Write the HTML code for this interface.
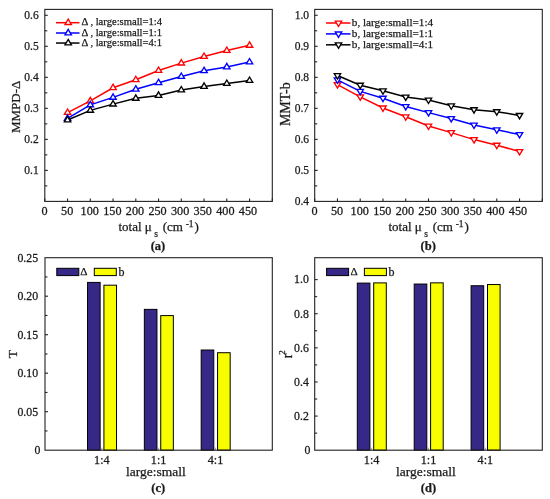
<!DOCTYPE html>
<html><head><meta charset="utf-8"><style>
html,body{margin:0;padding:0;background:#fff;}
svg{display:block;}
text{font-family:"Liberation Serif", serif;fill:#1a1a1a;stroke:#1a1a1a;stroke-width:0.25px;}
svg{will-change:transform;}
</style></head><body>
<svg width="550" height="499" viewBox="0 0 550 499">
<rect width="550" height="499" fill="#fff"/>
<line x1="44.80" y1="201.40" x2="44.80" y2="198.40" stroke="#222" stroke-width="1.1"/>
<line x1="67.55" y1="201.40" x2="67.55" y2="198.40" stroke="#222" stroke-width="1.1"/>
<line x1="90.30" y1="201.40" x2="90.30" y2="198.40" stroke="#222" stroke-width="1.1"/>
<line x1="113.05" y1="201.40" x2="113.05" y2="198.40" stroke="#222" stroke-width="1.1"/>
<line x1="135.80" y1="201.40" x2="135.80" y2="198.40" stroke="#222" stroke-width="1.1"/>
<line x1="158.55" y1="201.40" x2="158.55" y2="198.40" stroke="#222" stroke-width="1.1"/>
<line x1="181.30" y1="201.40" x2="181.30" y2="198.40" stroke="#222" stroke-width="1.1"/>
<line x1="204.05" y1="201.40" x2="204.05" y2="198.40" stroke="#222" stroke-width="1.1"/>
<line x1="226.80" y1="201.40" x2="226.80" y2="198.40" stroke="#222" stroke-width="1.1"/>
<line x1="249.55" y1="201.40" x2="249.55" y2="198.40" stroke="#222" stroke-width="1.1"/>
<line x1="272.30" y1="201.40" x2="272.30" y2="198.40" stroke="#222" stroke-width="1.1"/>
<line x1="44.80" y1="185.89" x2="47.30" y2="185.89" stroke="#222" stroke-width="1.1"/>
<line x1="44.80" y1="170.38" x2="47.80" y2="170.38" stroke="#222" stroke-width="1.1"/>
<line x1="44.80" y1="154.87" x2="47.30" y2="154.87" stroke="#222" stroke-width="1.1"/>
<line x1="44.80" y1="139.36" x2="47.80" y2="139.36" stroke="#222" stroke-width="1.1"/>
<line x1="44.80" y1="123.85" x2="47.30" y2="123.85" stroke="#222" stroke-width="1.1"/>
<line x1="44.80" y1="108.34" x2="47.80" y2="108.34" stroke="#222" stroke-width="1.1"/>
<line x1="44.80" y1="92.83" x2="47.30" y2="92.83" stroke="#222" stroke-width="1.1"/>
<line x1="44.80" y1="77.32" x2="47.80" y2="77.32" stroke="#222" stroke-width="1.1"/>
<line x1="44.80" y1="61.81" x2="47.30" y2="61.81" stroke="#222" stroke-width="1.1"/>
<line x1="44.80" y1="46.30" x2="47.80" y2="46.30" stroke="#222" stroke-width="1.1"/>
<line x1="44.80" y1="30.79" x2="47.30" y2="30.79" stroke="#222" stroke-width="1.1"/>
<line x1="44.80" y1="15.28" x2="47.80" y2="15.28" stroke="#222" stroke-width="1.1"/>
<rect x="44.80" y="9.40" width="227.50" height="192.00" fill="none" stroke="#222" stroke-width="1.1"/>
<text transform="translate(38.70,174.08) scale(1.0,1)" font-size="11.5" text-anchor="end">0.1</text>
<text transform="translate(38.70,143.06) scale(1.0,1)" font-size="11.5" text-anchor="end">0.2</text>
<text transform="translate(38.70,112.04) scale(1.0,1)" font-size="11.5" text-anchor="end">0.3</text>
<text transform="translate(38.70,81.02) scale(1.0,1)" font-size="11.5" text-anchor="end">0.4</text>
<text transform="translate(38.70,50.00) scale(1.0,1)" font-size="11.5" text-anchor="end">0.5</text>
<text transform="translate(38.70,18.98) scale(1.0,1)" font-size="11.5" text-anchor="end">0.6</text>
<text transform="translate(44.55,214.80) scale(1.06,1)" font-size="11.5" text-anchor="middle">0</text>
<text transform="translate(67.15,214.80) scale(1.06,1)" font-size="11.5" text-anchor="middle">50</text>
<text transform="translate(89.75,214.80) scale(1.06,1)" font-size="11.5" text-anchor="middle">100</text>
<text transform="translate(112.35,214.80) scale(1.06,1)" font-size="11.5" text-anchor="middle">150</text>
<text transform="translate(134.95,214.80) scale(1.06,1)" font-size="11.5" text-anchor="middle">200</text>
<text transform="translate(157.55,214.80) scale(1.06,1)" font-size="11.5" text-anchor="middle">250</text>
<text transform="translate(180.15,214.80) scale(1.06,1)" font-size="11.5" text-anchor="middle">300</text>
<text transform="translate(202.75,214.80) scale(1.06,1)" font-size="11.5" text-anchor="middle">350</text>
<text transform="translate(225.35,214.80) scale(1.06,1)" font-size="11.5" text-anchor="middle">400</text>
<text transform="translate(247.95,214.80) scale(1.06,1)" font-size="11.5" text-anchor="middle">450</text>
<polyline points="67.55,112.55 90.30,100.95 113.05,87.75 135.80,79.80 158.55,70.55 181.30,63.15 204.05,56.55 226.80,50.55 249.55,45.35" fill="none" stroke="#ff0000" stroke-width="1.5"/>
<polygon points="67.55,109.00 70.75,114.40 64.35,114.40" fill="#fff" stroke="#ff0000" stroke-width="1.35" stroke-linejoin="miter"/>
<polygon points="90.30,97.40 93.50,102.80 87.10,102.80" fill="#fff" stroke="#ff0000" stroke-width="1.35" stroke-linejoin="miter"/>
<polygon points="113.05,84.20 116.25,89.60 109.85,89.60" fill="#fff" stroke="#ff0000" stroke-width="1.35" stroke-linejoin="miter"/>
<polygon points="135.80,76.25 139.00,81.65 132.60,81.65" fill="#fff" stroke="#ff0000" stroke-width="1.35" stroke-linejoin="miter"/>
<polygon points="158.55,67.00 161.75,72.40 155.35,72.40" fill="#fff" stroke="#ff0000" stroke-width="1.35" stroke-linejoin="miter"/>
<polygon points="181.30,59.60 184.50,65.00 178.10,65.00" fill="#fff" stroke="#ff0000" stroke-width="1.35" stroke-linejoin="miter"/>
<polygon points="204.05,53.00 207.25,58.40 200.85,58.40" fill="#fff" stroke="#ff0000" stroke-width="1.35" stroke-linejoin="miter"/>
<polygon points="226.80,47.00 230.00,52.40 223.60,52.40" fill="#fff" stroke="#ff0000" stroke-width="1.35" stroke-linejoin="miter"/>
<polygon points="249.55,41.80 252.75,47.20 246.35,47.20" fill="#fff" stroke="#ff0000" stroke-width="1.35" stroke-linejoin="miter"/>
<polyline points="67.55,118.45 90.30,104.85 113.05,97.35 135.80,89.25 158.55,82.75 181.30,76.55 204.05,70.75 226.80,66.95 249.55,62.05" fill="none" stroke="#0000ff" stroke-width="1.5"/>
<polygon points="67.55,114.90 70.75,120.30 64.35,120.30" fill="#fff" stroke="#0000ff" stroke-width="1.35" stroke-linejoin="miter"/>
<polygon points="90.30,101.30 93.50,106.70 87.10,106.70" fill="#fff" stroke="#0000ff" stroke-width="1.35" stroke-linejoin="miter"/>
<polygon points="113.05,93.80 116.25,99.20 109.85,99.20" fill="#fff" stroke="#0000ff" stroke-width="1.35" stroke-linejoin="miter"/>
<polygon points="135.80,85.70 139.00,91.10 132.60,91.10" fill="#fff" stroke="#0000ff" stroke-width="1.35" stroke-linejoin="miter"/>
<polygon points="158.55,79.20 161.75,84.60 155.35,84.60" fill="#fff" stroke="#0000ff" stroke-width="1.35" stroke-linejoin="miter"/>
<polygon points="181.30,73.00 184.50,78.40 178.10,78.40" fill="#fff" stroke="#0000ff" stroke-width="1.35" stroke-linejoin="miter"/>
<polygon points="204.05,67.20 207.25,72.60 200.85,72.60" fill="#fff" stroke="#0000ff" stroke-width="1.35" stroke-linejoin="miter"/>
<polygon points="226.80,63.40 230.00,68.80 223.60,68.80" fill="#fff" stroke="#0000ff" stroke-width="1.35" stroke-linejoin="miter"/>
<polygon points="249.55,58.50 252.75,63.90 246.35,63.90" fill="#fff" stroke="#0000ff" stroke-width="1.35" stroke-linejoin="miter"/>
<polyline points="67.55,120.05 90.30,110.35 113.05,104.15 135.80,98.35 158.55,95.45 181.30,90.05 204.05,86.45 226.80,83.55 249.55,80.55" fill="none" stroke="#000" stroke-width="1.5"/>
<polygon points="67.55,116.50 70.75,121.90 64.35,121.90" fill="#fff" stroke="#000" stroke-width="1.35" stroke-linejoin="miter"/>
<polygon points="90.30,106.80 93.50,112.20 87.10,112.20" fill="#fff" stroke="#000" stroke-width="1.35" stroke-linejoin="miter"/>
<polygon points="113.05,100.60 116.25,106.00 109.85,106.00" fill="#fff" stroke="#000" stroke-width="1.35" stroke-linejoin="miter"/>
<polygon points="135.80,94.80 139.00,100.20 132.60,100.20" fill="#fff" stroke="#000" stroke-width="1.35" stroke-linejoin="miter"/>
<polygon points="158.55,91.90 161.75,97.30 155.35,97.30" fill="#fff" stroke="#000" stroke-width="1.35" stroke-linejoin="miter"/>
<polygon points="181.30,86.50 184.50,91.90 178.10,91.90" fill="#fff" stroke="#000" stroke-width="1.35" stroke-linejoin="miter"/>
<polygon points="204.05,82.90 207.25,88.30 200.85,88.30" fill="#fff" stroke="#000" stroke-width="1.35" stroke-linejoin="miter"/>
<polygon points="226.80,80.00 230.00,85.40 223.60,85.40" fill="#fff" stroke="#000" stroke-width="1.35" stroke-linejoin="miter"/>
<polygon points="249.55,77.00 252.75,82.40 246.35,82.40" fill="#fff" stroke="#000" stroke-width="1.35" stroke-linejoin="miter"/>
<line x1="56.00" y1="22.70" x2="79.50" y2="22.70" stroke="#ff0000" stroke-width="1.5"/>
<polygon points="68.20,19.10 71.40,24.50 65.00,24.50" fill="#fff" stroke="#ff0000" stroke-width="1.35" stroke-linejoin="miter"/>
<text x="81.50" y="25.30" font-size="10.6" text-anchor="start" font-weight="normal" >&#916; , large:small=1:4</text>
<line x1="56.00" y1="33.00" x2="79.50" y2="33.00" stroke="#0000ff" stroke-width="1.5"/>
<polygon points="68.20,29.40 71.40,34.80 65.00,34.80" fill="#fff" stroke="#0000ff" stroke-width="1.35" stroke-linejoin="miter"/>
<text x="81.50" y="35.60" font-size="10.6" text-anchor="start" font-weight="normal" >&#916; , large:small=1:1</text>
<line x1="56.00" y1="43.05" x2="79.50" y2="43.05" stroke="#000" stroke-width="1.5"/>
<polygon points="68.20,39.45 71.40,44.85 65.00,44.85" fill="#fff" stroke="#000" stroke-width="1.35" stroke-linejoin="miter"/>
<text x="81.50" y="45.65" font-size="10.6" text-anchor="start" font-weight="normal" >&#916; , large:small=4:1</text>
<text x="0.00" y="0.00" font-size="13" text-anchor="middle" font-weight="normal" transform="translate(19.7,106.8) rotate(-90)">MMPD-&#916;</text>
<text x="118.5" y="230.5" font-size="13">total &#956;<tspan font-size="9.5" dy="6.6" dx="2.3">s</tspan><tspan dy="-6.6" dx="4.8">(cm</tspan><tspan font-size="9.5" dy="-3.7" dx="2.8">-1</tspan><tspan dy="3.7" dx="1.0">)</tspan></text>
<text x="158.00" y="250.20" font-size="12.5" text-anchor="middle" font-weight="bold" >(a)</text>
<line x1="314.70" y1="201.40" x2="314.70" y2="198.40" stroke="#222" stroke-width="1.1"/>
<line x1="337.46" y1="201.40" x2="337.46" y2="198.40" stroke="#222" stroke-width="1.1"/>
<line x1="360.22" y1="201.40" x2="360.22" y2="198.40" stroke="#222" stroke-width="1.1"/>
<line x1="382.98" y1="201.40" x2="382.98" y2="198.40" stroke="#222" stroke-width="1.1"/>
<line x1="405.74" y1="201.40" x2="405.74" y2="198.40" stroke="#222" stroke-width="1.1"/>
<line x1="428.50" y1="201.40" x2="428.50" y2="198.40" stroke="#222" stroke-width="1.1"/>
<line x1="451.26" y1="201.40" x2="451.26" y2="198.40" stroke="#222" stroke-width="1.1"/>
<line x1="474.02" y1="201.40" x2="474.02" y2="198.40" stroke="#222" stroke-width="1.1"/>
<line x1="496.78" y1="201.40" x2="496.78" y2="198.40" stroke="#222" stroke-width="1.1"/>
<line x1="519.54" y1="201.40" x2="519.54" y2="198.40" stroke="#222" stroke-width="1.1"/>
<line x1="542.30" y1="201.40" x2="542.30" y2="198.40" stroke="#222" stroke-width="1.1"/>
<line x1="314.70" y1="185.89" x2="317.20" y2="185.89" stroke="#222" stroke-width="1.1"/>
<line x1="314.70" y1="170.38" x2="317.70" y2="170.38" stroke="#222" stroke-width="1.1"/>
<line x1="314.70" y1="154.87" x2="317.20" y2="154.87" stroke="#222" stroke-width="1.1"/>
<line x1="314.70" y1="139.36" x2="317.70" y2="139.36" stroke="#222" stroke-width="1.1"/>
<line x1="314.70" y1="123.85" x2="317.20" y2="123.85" stroke="#222" stroke-width="1.1"/>
<line x1="314.70" y1="108.34" x2="317.70" y2="108.34" stroke="#222" stroke-width="1.1"/>
<line x1="314.70" y1="92.83" x2="317.20" y2="92.83" stroke="#222" stroke-width="1.1"/>
<line x1="314.70" y1="77.32" x2="317.70" y2="77.32" stroke="#222" stroke-width="1.1"/>
<line x1="314.70" y1="61.81" x2="317.20" y2="61.81" stroke="#222" stroke-width="1.1"/>
<line x1="314.70" y1="46.30" x2="317.70" y2="46.30" stroke="#222" stroke-width="1.1"/>
<line x1="314.70" y1="30.79" x2="317.20" y2="30.79" stroke="#222" stroke-width="1.1"/>
<line x1="314.70" y1="15.28" x2="317.70" y2="15.28" stroke="#222" stroke-width="1.1"/>
<rect x="314.70" y="9.40" width="227.60" height="192.00" fill="none" stroke="#222" stroke-width="1.1"/>
<text transform="translate(309.10,204.90) scale(1.0,1)" font-size="11.5" text-anchor="end">0.4</text>
<text transform="translate(309.10,173.88) scale(1.0,1)" font-size="11.5" text-anchor="end">0.5</text>
<text transform="translate(309.10,142.86) scale(1.0,1)" font-size="11.5" text-anchor="end">0.6</text>
<text transform="translate(309.10,111.84) scale(1.0,1)" font-size="11.5" text-anchor="end">0.7</text>
<text transform="translate(309.10,80.82) scale(1.0,1)" font-size="11.5" text-anchor="end">0.8</text>
<text transform="translate(309.10,49.80) scale(1.0,1)" font-size="11.5" text-anchor="end">0.9</text>
<text transform="translate(309.10,18.78) scale(1.0,1)" font-size="11.5" text-anchor="end">1.0</text>
<text transform="translate(314.45,214.80) scale(1.06,1)" font-size="11.5" text-anchor="middle">0</text>
<text transform="translate(337.06,214.80) scale(1.06,1)" font-size="11.5" text-anchor="middle">50</text>
<text transform="translate(359.67,214.80) scale(1.06,1)" font-size="11.5" text-anchor="middle">100</text>
<text transform="translate(382.28,214.80) scale(1.06,1)" font-size="11.5" text-anchor="middle">150</text>
<text transform="translate(404.89,214.80) scale(1.06,1)" font-size="11.5" text-anchor="middle">200</text>
<text transform="translate(427.50,214.80) scale(1.06,1)" font-size="11.5" text-anchor="middle">250</text>
<text transform="translate(450.11,214.80) scale(1.06,1)" font-size="11.5" text-anchor="middle">300</text>
<text transform="translate(472.72,214.80) scale(1.06,1)" font-size="11.5" text-anchor="middle">350</text>
<text transform="translate(495.33,214.80) scale(1.06,1)" font-size="11.5" text-anchor="middle">400</text>
<text transform="translate(517.94,214.80) scale(1.06,1)" font-size="11.5" text-anchor="middle">450</text>
<polyline points="337.46,84.60 360.22,96.85 382.98,107.95 405.74,116.80 428.50,126.05 451.26,132.60 474.02,139.60 496.78,145.20 519.54,151.50" fill="none" stroke="#ff0000" stroke-width="1.5"/>
<polygon points="337.46,88.05 340.66,82.65 334.26,82.65" fill="#fff" stroke="#ff0000" stroke-width="1.35" stroke-linejoin="miter"/>
<polygon points="360.22,100.30 363.42,94.90 357.02,94.90" fill="#fff" stroke="#ff0000" stroke-width="1.35" stroke-linejoin="miter"/>
<polygon points="382.98,111.40 386.18,106.00 379.78,106.00" fill="#fff" stroke="#ff0000" stroke-width="1.35" stroke-linejoin="miter"/>
<polygon points="405.74,120.25 408.94,114.85 402.54,114.85" fill="#fff" stroke="#ff0000" stroke-width="1.35" stroke-linejoin="miter"/>
<polygon points="428.50,129.50 431.70,124.10 425.30,124.10" fill="#fff" stroke="#ff0000" stroke-width="1.35" stroke-linejoin="miter"/>
<polygon points="451.26,136.05 454.46,130.65 448.06,130.65" fill="#fff" stroke="#ff0000" stroke-width="1.35" stroke-linejoin="miter"/>
<polygon points="474.02,143.05 477.22,137.65 470.82,137.65" fill="#fff" stroke="#ff0000" stroke-width="1.35" stroke-linejoin="miter"/>
<polygon points="496.78,148.65 499.98,143.25 493.58,143.25" fill="#fff" stroke="#ff0000" stroke-width="1.35" stroke-linejoin="miter"/>
<polygon points="519.54,154.95 522.74,149.55 516.34,149.55" fill="#fff" stroke="#ff0000" stroke-width="1.35" stroke-linejoin="miter"/>
<polyline points="337.46,79.85 360.22,91.35 382.98,98.20 405.74,106.50 428.50,112.60 451.26,118.50 474.02,125.05 496.78,129.85 519.54,134.50" fill="none" stroke="#0000ff" stroke-width="1.5"/>
<polygon points="337.46,83.30 340.66,77.90 334.26,77.90" fill="#fff" stroke="#0000ff" stroke-width="1.35" stroke-linejoin="miter"/>
<polygon points="360.22,94.80 363.42,89.40 357.02,89.40" fill="#fff" stroke="#0000ff" stroke-width="1.35" stroke-linejoin="miter"/>
<polygon points="382.98,101.65 386.18,96.25 379.78,96.25" fill="#fff" stroke="#0000ff" stroke-width="1.35" stroke-linejoin="miter"/>
<polygon points="405.74,109.95 408.94,104.55 402.54,104.55" fill="#fff" stroke="#0000ff" stroke-width="1.35" stroke-linejoin="miter"/>
<polygon points="428.50,116.05 431.70,110.65 425.30,110.65" fill="#fff" stroke="#0000ff" stroke-width="1.35" stroke-linejoin="miter"/>
<polygon points="451.26,121.95 454.46,116.55 448.06,116.55" fill="#fff" stroke="#0000ff" stroke-width="1.35" stroke-linejoin="miter"/>
<polygon points="474.02,128.50 477.22,123.10 470.82,123.10" fill="#fff" stroke="#0000ff" stroke-width="1.35" stroke-linejoin="miter"/>
<polygon points="496.78,133.30 499.98,127.90 493.58,127.90" fill="#fff" stroke="#0000ff" stroke-width="1.35" stroke-linejoin="miter"/>
<polygon points="519.54,137.95 522.74,132.55 516.34,132.55" fill="#fff" stroke="#0000ff" stroke-width="1.35" stroke-linejoin="miter"/>
<polyline points="337.46,75.55 360.22,85.20 382.98,90.80 405.74,97.00 428.50,100.05 451.26,105.80 474.02,109.65 496.78,111.70 519.54,115.40" fill="none" stroke="#000" stroke-width="1.5"/>
<polygon points="337.46,79.00 340.66,73.60 334.26,73.60" fill="#fff" stroke="#000" stroke-width="1.35" stroke-linejoin="miter"/>
<polygon points="360.22,88.65 363.42,83.25 357.02,83.25" fill="#fff" stroke="#000" stroke-width="1.35" stroke-linejoin="miter"/>
<polygon points="382.98,94.25 386.18,88.85 379.78,88.85" fill="#fff" stroke="#000" stroke-width="1.35" stroke-linejoin="miter"/>
<polygon points="405.74,100.45 408.94,95.05 402.54,95.05" fill="#fff" stroke="#000" stroke-width="1.35" stroke-linejoin="miter"/>
<polygon points="428.50,103.50 431.70,98.10 425.30,98.10" fill="#fff" stroke="#000" stroke-width="1.35" stroke-linejoin="miter"/>
<polygon points="451.26,109.25 454.46,103.85 448.06,103.85" fill="#fff" stroke="#000" stroke-width="1.35" stroke-linejoin="miter"/>
<polygon points="474.02,113.10 477.22,107.70 470.82,107.70" fill="#fff" stroke="#000" stroke-width="1.35" stroke-linejoin="miter"/>
<polygon points="496.78,115.15 499.98,109.75 493.58,109.75" fill="#fff" stroke="#000" stroke-width="1.35" stroke-linejoin="miter"/>
<polygon points="519.54,118.85 522.74,113.45 516.34,113.45" fill="#fff" stroke="#000" stroke-width="1.35" stroke-linejoin="miter"/>
<line x1="326.00" y1="23.00" x2="350.50" y2="23.00" stroke="#ff0000" stroke-width="1.5"/>
<polygon points="338.50,26.50 341.70,21.10 335.30,21.10" fill="#fff" stroke="#ff0000" stroke-width="1.35" stroke-linejoin="miter"/>
<text x="351.80" y="26.00" font-size="11.2" text-anchor="start" font-weight="normal" >b, large:small=1:4</text>
<line x1="326.00" y1="33.90" x2="350.50" y2="33.90" stroke="#0000ff" stroke-width="1.5"/>
<polygon points="338.50,37.40 341.70,32.00 335.30,32.00" fill="#fff" stroke="#0000ff" stroke-width="1.35" stroke-linejoin="miter"/>
<text x="351.80" y="36.90" font-size="11.2" text-anchor="start" font-weight="normal" >b, large:small=1:1</text>
<line x1="326.00" y1="44.80" x2="350.50" y2="44.80" stroke="#000" stroke-width="1.5"/>
<polygon points="338.50,48.30 341.70,42.90 335.30,42.90" fill="#fff" stroke="#000" stroke-width="1.35" stroke-linejoin="miter"/>
<text x="351.80" y="47.80" font-size="11.2" text-anchor="start" font-weight="normal" >b, large:small=4:1</text>
<text x="0.00" y="0.00" font-size="14" text-anchor="middle" font-weight="normal" transform="translate(290.3,104.2) rotate(-90)">MMT-b</text>
<text x="388.5" y="230.5" font-size="13">total &#956;<tspan font-size="9.5" dy="6.6" dx="2.3">s</tspan><tspan dy="-6.6" dx="4.8">(cm</tspan><tspan font-size="9.5" dy="-3.7" dx="2.8">-1</tspan><tspan dy="3.7" dx="1.0">)</tspan></text>
<text x="428.20" y="250.20" font-size="12.5" text-anchor="middle" font-weight="bold" >(b)</text>
<line x1="45.00" y1="430.95" x2="47.50" y2="430.95" stroke="#222" stroke-width="1.1"/>
<line x1="45.00" y1="411.70" x2="48.00" y2="411.70" stroke="#222" stroke-width="1.1"/>
<line x1="45.00" y1="392.45" x2="47.50" y2="392.45" stroke="#222" stroke-width="1.1"/>
<line x1="45.00" y1="373.20" x2="48.00" y2="373.20" stroke="#222" stroke-width="1.1"/>
<line x1="45.00" y1="353.95" x2="47.50" y2="353.95" stroke="#222" stroke-width="1.1"/>
<line x1="45.00" y1="334.70" x2="48.00" y2="334.70" stroke="#222" stroke-width="1.1"/>
<line x1="45.00" y1="315.45" x2="47.50" y2="315.45" stroke="#222" stroke-width="1.1"/>
<line x1="45.00" y1="296.20" x2="48.00" y2="296.20" stroke="#222" stroke-width="1.1"/>
<line x1="45.00" y1="276.95" x2="47.50" y2="276.95" stroke="#222" stroke-width="1.1"/>
<rect x="87.53" y="282.42" width="12.6" height="167.78" fill="#362887" stroke="#000" stroke-width="1"/>
<rect x="103.92" y="285.19" width="12.6" height="165.01" fill="#f8fd00" stroke="#000" stroke-width="1"/>
<line x1="101.83" y1="450.20" x2="101.83" y2="447.70" stroke="#999" stroke-width="0.9"/>
<rect x="144.35" y="309.37" width="12.6" height="140.83" fill="#362887" stroke="#000" stroke-width="1"/>
<rect x="160.75" y="315.60" width="12.6" height="134.60" fill="#f8fd00" stroke="#000" stroke-width="1"/>
<line x1="158.65" y1="450.20" x2="158.65" y2="447.70" stroke="#999" stroke-width="0.9"/>
<rect x="201.18" y="350.02" width="12.6" height="100.18" fill="#362887" stroke="#000" stroke-width="1"/>
<rect x="217.58" y="352.72" width="12.6" height="97.48" fill="#f8fd00" stroke="#000" stroke-width="1"/>
<line x1="215.48" y1="450.20" x2="215.48" y2="447.70" stroke="#999" stroke-width="0.9"/>
<rect x="45.00" y="257.70" width="227.30" height="192.50" fill="none" stroke="#222" stroke-width="1.1"/>
<text transform="translate(40.30,454.00) scale(1.03,1)" font-size="11.5" text-anchor="end">0</text>
<text transform="translate(38.10,415.50) scale(1.03,1)" font-size="11.5" text-anchor="end">0.05</text>
<text transform="translate(38.10,377.00) scale(1.03,1)" font-size="11.5" text-anchor="end">0.10</text>
<text transform="translate(38.10,338.50) scale(1.03,1)" font-size="11.5" text-anchor="end">0.15</text>
<text transform="translate(38.10,300.00) scale(1.03,1)" font-size="11.5" text-anchor="end">0.20</text>
<text transform="translate(38.10,261.50) scale(1.03,1)" font-size="11.5" text-anchor="end">0.25</text>
<text transform="translate(101.83,463.80) scale(1.06,1)" font-size="11.5" text-anchor="middle">1:4</text>
<text transform="translate(158.65,463.80) scale(1.06,1)" font-size="11.5" text-anchor="middle">1:1</text>
<text transform="translate(215.48,463.80) scale(1.06,1)" font-size="11.5" text-anchor="middle">4:1</text>
<text x="155.90" y="476.40" font-size="13.5" text-anchor="middle" font-weight="normal" >large:small</text>
<text x="158.20" y="492.00" font-size="12.5" text-anchor="middle" font-weight="bold" >(c)</text>
<text x="0.00" y="0.00" font-size="13.5" text-anchor="middle" font-weight="normal" transform="translate(17.0,354.0) rotate(-90)">T</text>
<rect x="56.8" y="268.3" width="22" height="7.3" fill="#362887" stroke="#000" stroke-width="1"/>
<text x="80.30" y="275.00" font-size="11.2" text-anchor="start" font-weight="normal" >&#916;</text>
<rect x="94.3" y="268.3" width="22" height="7.3" fill="#f8fd00" stroke="#000" stroke-width="1"/>
<text x="118.40" y="275.60" font-size="12" text-anchor="start" font-weight="normal" >b</text>
<line x1="314.70" y1="433.14" x2="317.20" y2="433.14" stroke="#222" stroke-width="1.1"/>
<line x1="314.70" y1="416.08" x2="317.70" y2="416.08" stroke="#222" stroke-width="1.1"/>
<line x1="314.70" y1="399.02" x2="317.20" y2="399.02" stroke="#222" stroke-width="1.1"/>
<line x1="314.70" y1="381.96" x2="317.70" y2="381.96" stroke="#222" stroke-width="1.1"/>
<line x1="314.70" y1="364.90" x2="317.20" y2="364.90" stroke="#222" stroke-width="1.1"/>
<line x1="314.70" y1="347.84" x2="317.70" y2="347.84" stroke="#222" stroke-width="1.1"/>
<line x1="314.70" y1="330.78" x2="317.20" y2="330.78" stroke="#222" stroke-width="1.1"/>
<line x1="314.70" y1="313.72" x2="317.70" y2="313.72" stroke="#222" stroke-width="1.1"/>
<line x1="314.70" y1="296.66" x2="317.20" y2="296.66" stroke="#222" stroke-width="1.1"/>
<line x1="314.70" y1="279.60" x2="317.70" y2="279.60" stroke="#222" stroke-width="1.1"/>
<rect x="357.30" y="283.10" width="12.6" height="167.10" fill="#362887" stroke="#000" stroke-width="1"/>
<rect x="373.70" y="282.89" width="12.6" height="167.31" fill="#f8fd00" stroke="#000" stroke-width="1"/>
<line x1="371.60" y1="450.20" x2="371.60" y2="447.70" stroke="#999" stroke-width="0.9"/>
<rect x="414.20" y="284.04" width="12.6" height="166.16" fill="#362887" stroke="#000" stroke-width="1"/>
<rect x="430.60" y="282.84" width="12.6" height="167.36" fill="#f8fd00" stroke="#000" stroke-width="1"/>
<line x1="428.50" y1="450.20" x2="428.50" y2="447.70" stroke="#999" stroke-width="0.9"/>
<rect x="471.10" y="285.74" width="12.6" height="164.46" fill="#362887" stroke="#000" stroke-width="1"/>
<rect x="487.50" y="284.55" width="12.6" height="165.65" fill="#f8fd00" stroke="#000" stroke-width="1"/>
<line x1="485.40" y1="450.20" x2="485.40" y2="447.70" stroke="#999" stroke-width="0.9"/>
<rect x="314.70" y="257.70" width="227.60" height="192.50" fill="none" stroke="#222" stroke-width="1.1"/>
<text transform="translate(310.30,454.00) scale(1.03,1)" font-size="11.5" text-anchor="end">0</text>
<text transform="translate(308.90,419.88) scale(1.03,1)" font-size="11.5" text-anchor="end">0.2</text>
<text transform="translate(308.90,385.76) scale(1.03,1)" font-size="11.5" text-anchor="end">0.4</text>
<text transform="translate(308.90,351.64) scale(1.03,1)" font-size="11.5" text-anchor="end">0.6</text>
<text transform="translate(308.90,317.52) scale(1.03,1)" font-size="11.5" text-anchor="end">0.8</text>
<text transform="translate(308.90,283.40) scale(1.03,1)" font-size="11.5" text-anchor="end">1.0</text>
<text transform="translate(371.60,463.80) scale(1.06,1)" font-size="11.5" text-anchor="middle">1:4</text>
<text transform="translate(428.50,463.80) scale(1.06,1)" font-size="11.5" text-anchor="middle">1:1</text>
<text transform="translate(485.40,463.80) scale(1.06,1)" font-size="11.5" text-anchor="middle">4:1</text>
<text x="425.90" y="476.40" font-size="13.5" text-anchor="middle" font-weight="normal" >large:small</text>
<text x="428.50" y="492.00" font-size="12.5" text-anchor="middle" font-weight="bold" >(d)</text>
<text transform="translate(291.6,358.2) rotate(-90)" font-size="14" text-anchor="start">r<tspan font-size="9" dy="-6.5" dx="-1.1">2</tspan></text>
<rect x="326.6" y="268.3" width="22" height="7.3" fill="#362887" stroke="#000" stroke-width="1"/>
<text x="350.40" y="275.00" font-size="11.2" text-anchor="start" font-weight="normal" >&#916;</text>
<rect x="364.4" y="268.3" width="22" height="7.3" fill="#f8fd00" stroke="#000" stroke-width="1"/>
<text x="388.40" y="275.60" font-size="12" text-anchor="start" font-weight="normal" >b</text>
</svg>
</body></html>
